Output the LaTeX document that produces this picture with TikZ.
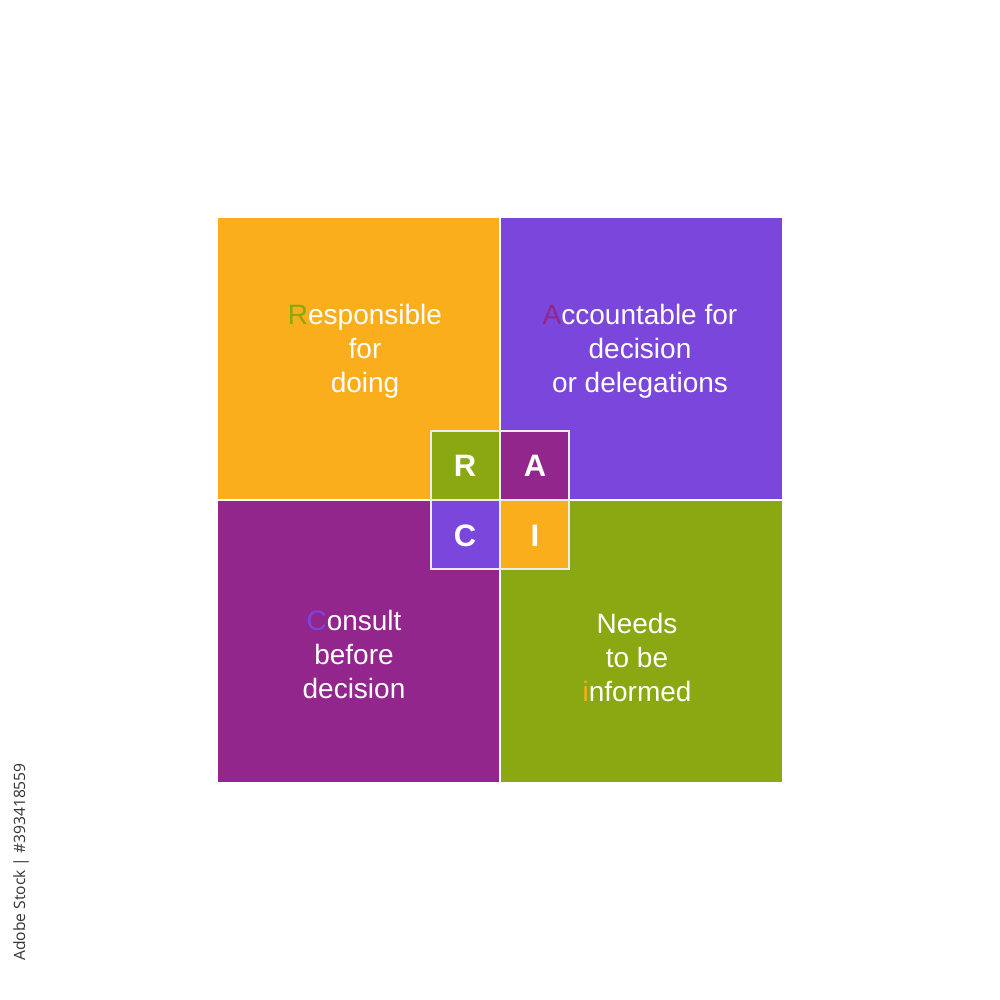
\documentclass[tikz,border=0pt]{standalone}
\usepackage{fontspec}
\setmainfont{Liberation Sans}
\newfontfamily\sidefont{Open Sans}
\definecolor{qorange}{HTML}{FBAE1B}
\definecolor{qviolet}{HTML}{7B46DB}
\definecolor{qplum}{HTML}{92268D}
\definecolor{qgreen}{HTML}{8AA811}
\definecolor{sidegray}{HTML}{333333}
\begin{document}
\begin{tikzpicture}[x=0.5pt,y=-0.5pt,
  quad/.style={draw=white,line width=0.6pt},
  cell/.style={draw=white!85!gray,line width=0.8pt},
  qtext/.style={text=white,font=\fontsize{14}{17}\selectfont,align=center,inner sep=0pt},
  letter/.style={text=white,font=\fontsize{15.5}{18}\selectfont\bfseries,inner sep=0pt}]
\useasboundingbox (0,0) rectangle (1000,1000);
\fill[white] (0,0) rectangle (1000,1000);
% quadrants
\fill[qorange] (218,218) rectangle (500,500);
\fill[qviolet] (500,218) rectangle (782,500);
\fill[qplum] (218,500) rectangle (500,782);
\fill[qgreen] (500,500) rectangle (782,782);
\draw[quad] (500,218) -- (500,782);
\draw[quad] (218,500) -- (782,500);
% centre cells
\fill[qgreen] (431,431) rectangle (500,500);
\fill[qplum] (500,431) rectangle (569,500);
\fill[qviolet] (431,500) rectangle (500,569);
\fill[qorange] (500,500) rectangle (569,569);
\draw[cell] (431,431) rectangle (569,569);
\draw[cell] (500,431) -- (500,569);
\draw[cell] (431,500) -- (569,500);
\node[letter] (r) at (465,466) {R};
\node[letter] (a) at (535,466) {A};
\node[letter] (c) at (465,536) {C};
\node[letter] (i) at (535,536) {I};
% quadrant texts
\node[qtext] (resp) at (365,351) {\textcolor{qgreen}{R}esponsible\\for\\doing};
\node[qtext] (acc) at (640,351) {\textcolor{qplum}{A}ccountable for\\decision\\or delegations};
\node[qtext] (cons) at (354,654) {\textcolor{qviolet}{C}onsult\\before\\decision};
\node[qtext] (need) at (637,657) {Needs\\to be\\\textcolor{qorange}{i}nformed};
% side text
\node[text=sidegray,font=\sidefont\fontsize{7.8}{9}\selectfont,rotate=90,inner sep=0pt] (side) at (21,862) {Adobe Stock | \#393418559};
\end{tikzpicture}
\end{document}
